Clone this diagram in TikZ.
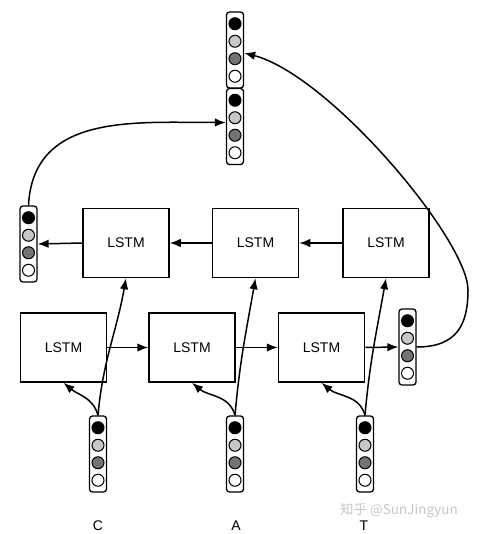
\documentclass[tikz,border=0pt]{standalone}
\usepackage{fontspec}
\setmainfont{Liberation Sans}
\newfontfamily\cjk{Noto Sans CJK SC}
\usetikzlibrary{arrows.meta}
\definecolor{lgray}{gray}{0.78}
\definecolor{dgray}{gray}{0.45}
\newcommand\vecdots[1]{%
  \foreach \o/\c in {26.25/black, 8.75/lgray, -8.75/dgray, -26.25/white}
    {\path (#1.center) ++(0,\o) node[dotc, fill=\c] {};}}
\begin{document}
\begin{tikzpicture}[x=1pt,y=1pt,
  lstm/.style={draw, line width=1.5pt, minimum width=86pt, minimum height=69pt, inner sep=0pt, font=\fontsize{14}{16}\selectfont},
  vbox/.style={draw, line width=1.3pt, rounded corners=3pt, minimum width=17pt, minimum height=76pt, inner sep=0pt, fill=white},
  dotc/.style={circle, draw, line width=1pt, minimum size=12pt, inner sep=0pt},
  conn/.style={line width=1.5pt, -{Latex[length=11pt,width=8.5pt]}},
  lbl/.style={font=\fontsize{14}{16}\selectfont},
  wm/.style={font=\cjk\fontsize{13.5}{15}\selectfont, text=gray!45}]
\useasboundingbox (0,0) rectangle (478,-534);
% LSTM boxes
\node[lstm] (f1) at (63.5,-347.5) {LSTM};
\node[lstm] (f2) at (192,-347.5) {LSTM};
\node[lstm] (f3) at (321.5,-347.5) {LSTM};
\node[lstm] (b1) at (126,-243) {LSTM};
\node[lstm] (b2) at (255.5,-243) {LSTM};
\node[lstm] (b3) at (386,-243) {LSTM};
% vectors
\node[vbox] (top1) at (235,-50) {};
\node[vbox] (top2) at (235,-126.5) {};
\node[vbox] (lv) at (28.5,-244) {};
\node[vbox] (ov) at (407.5,-347) {};
\node[vbox] (inC) at (98,-454) {};
\node[vbox] (inA) at (235,-454) {};
\node[vbox] (inT) at (365,-454) {};
\vecdots{top1}\vecdots{top2}\vecdots{lv}\vecdots{ov}
\vecdots{inC}\vecdots{inA}\vecdots{inT}
% labels
\node[lbl] (lC) at (98,-526) {C};
\node[lbl] (lA) at (236,-526) {A};
\node[lbl] (lT) at (364,-526) {T};
\node[wm] (wmk) at (399,-511) {知乎 @SunJingyun};
% horizontal connectors
\draw[conn] (f1.east) -- (f2.west);
\draw[conn] (f2.east) -- (f3.west);
\draw[conn] (f3.east) -- (ov.west);
\draw[conn] (b3.west) -- (b2.east);
\draw[conn] (b2.west) -- (b1.east);
\draw[conn] (b1.west) -- (lv.east);
% inputs
\draw[conn] (inC.north) to[out=105,in=-40] (f1.south);
\draw[conn] (inC.north) to[out=85,in=-100] (b1.south);
\draw[conn] (inA.north) to[out=105,in=-40] (f2.south);
\draw[conn] (inA.north) to[out=85,in=-100] (b2.south);
\draw[conn] (inT.north) to[out=105,in=-40] (f3.south);
\draw[conn] (inT.north) to[out=85,in=-100] (b3.south);
% top curves
\draw[conn] (lv.north) to[out=87,in=180,looseness=1.1] ([yshift=4pt]top2.west);
\coordinate (bend) at (468,-290);
\draw[conn] (ov.east) .. controls +(40,0) and +(0,-35) .. (bend)
  .. controls +(0,50) and +(85,-22) .. ([yshift=-3pt]top1.east);
\end{tikzpicture}
\end{document}
